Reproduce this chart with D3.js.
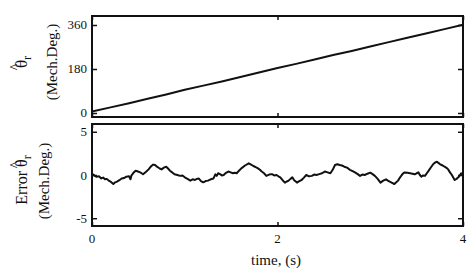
<!DOCTYPE html>
<html>
<head>
<meta charset="utf-8">
<script src="https://cdn.jsdelivr.net/npm/d3@7"></script>
<style>
  body { margin: 0; background: #fff; }
  svg text { font-family: "Liberation Serif", "DejaVu Serif", serif; fill: #111; }
</style>
</head>
<body>
<svg id="chart" width="474" height="278"></svg>
<script>
// time ticks (s)
var timeTicks = [0, 2, 4];
var thetaTicks = [0, 180, 360];
var errTicks = [-5, 0, 5];

// estimated rotor position (mech. deg.)
var thetaTime = [0, 0.2, 0.4, 0.6, 0.8, 1.0, 1.2, 1.4, 1.6, 1.8, 2.0, 2.2, 2.4, 2.6, 2.8, 3.0, 3.2, 3.4, 3.6, 3.8, 4.0];
var thetaVal  = [6, 23, 40, 58, 76, 95, 112, 129, 147, 166, 184, 201, 219, 237, 254, 272, 290, 308, 325, 343, 361];

// position error (mech. deg.)
var errTime = [0.00, 0.01, 0.03, 0.05, 0.075, 0.10, 0.12, 0.14, 0.16, 0.18, 0.205, 0.23, 0.25, 0.27, 0.295, 0.32, 0.345, 0.37, 0.40, 0.415, 0.425,
  0.43, 0.45, 0.47, 0.495, 0.52, 0.535, 0.55, 0.58, 0.61, 0.625, 0.64, 0.66, 0.68, 0.695, 0.71, 0.73, 0.75, 0.775, 0.80, 0.82, 0.84, 0.865, 0.89,
  0.92, 0.95, 0.975, 1.00, 1.03, 1.06, 1.085, 1.11, 1.13, 1.15, 1.175, 1.20, 1.225, 1.25, 1.28, 1.31, 1.33, 1.345, 1.36, 1.38, 1.40, 1.42,
  1.445, 1.47, 1.495, 1.52, 1.54, 1.56, 1.585, 1.61, 1.65, 1.69, 1.715, 1.74, 1.765, 1.79, 1.81, 1.83, 1.855, 1.88, 1.91, 1.94, 1.965, 1.99,
  2.01, 2.03, 2.055, 2.08, 2.10, 2.12, 2.14, 2.16, 2.18, 2.21, 2.235, 2.26, 2.285, 2.31, 2.34, 2.37, 2.395, 2.42, 2.45, 2.48, 2.51, 2.54,
  2.57, 2.595, 2.62, 2.645, 2.67, 2.695, 2.72, 2.75, 2.78, 2.81, 2.84, 2.865, 2.89, 2.915, 2.94, 2.97, 3.00, 3.025, 3.05, 3.08, 3.11, 3.14,
  3.17, 3.19, 3.21, 3.235, 3.26, 3.28, 3.30, 3.32, 3.34, 3.355, 3.37, 3.40, 3.43, 3.455, 3.48, 3.50, 3.52, 3.535, 3.55, 3.57, 3.59, 3.61,
  3.63, 3.655, 3.68, 3.70, 3.72, 3.735, 3.75, 3.78, 3.81, 3.825, 3.84, 3.86, 3.88, 3.895, 3.91, 3.93, 3.95, 3.965, 3.98, 4.00];
var errVal = [0.05, 0.08, -0.1, -0.2, -0.15, -0.4, -0.3, -0.5, -0.45, -0.65, -0.8, -1.04, -0.85, -0.77, -0.6, -0.4, -0.35, -0.2, -0.15, -0.5, -0.05,
  0.0, 0.3, 0.5, 0.4, 0.3, 0.2, 0.08, 0.35, 0.65, 0.85, 1.04, 1.2, 1.15, 1.0, 0.9, 0.75, 0.65, 0.85, 0.96, 0.75, 0.5, 0.3, 0.08,
  0.0, -0.1, -0.05, -0.27, -0.45, -0.65, -0.5, -0.58, -0.45, -0.4, -0.7, -0.85, -0.7, -0.65, -0.5, -0.4, 0.08, -0.1, 0.2, 0.1, -0.05, 0.0,
  0.25, 0.4, 0.3, 0.2, 0.25, 0.2, 0.5, 0.77, 1.1, 1.35, 1.2, 1.04, 0.9, 0.77, 0.6, 0.4, 0.2, -0.1, 0.05, 0.1, -0.05, 0.0,
  -0.15, -0.27, -0.6, -0.88, -0.75, -0.65, -0.45, -0.27, -0.6, -0.88, -0.7, -0.58, -0.3, 0.0, -0.15, -0.1, 0.05, 0.0, 0.1, 0.2, 0.4, 0.3,
  0.2, 0.6, 1.15, 1.25, 1.15, 1.1, 0.96, 0.85, 0.6, 0.45, 0.27, 0.1, -0.1, 0.05, 0.0, 0.15, 0.27, 0.1, -0.1, -0.45, -0.88, -0.65,
  -0.5, -0.65, -0.77, -0.9, -1.04, -0.85, -0.65, -0.3, 0.0, 0.2, 0.3, 0.25, 0.2, 0.15, 0.08, 0.2, 0.3, 0.0, -0.2, -0.05, -0.1, 0.2,
  0.5, 0.9, 1.27, 1.45, 1.54, 1.4, 1.27, 1.1, 0.9, 0.8, 0.65, 0.3, 0.0, -0.3, -0.58, -0.45, -0.27, -0.05, 0.2, 0.05];

var svg = d3.select("#chart");
var left = 92, right = 463;

var x = d3.scaleLinear().domain([0, 4]).range([left, right]);
var yTop = d3.scaleLinear().domain([-16.4, 396.8]).range([117, 16]);
var yBot = d3.scaleLinear().domain([-5.9, 5.9]).range([226, 124]);

function panel(y, ticks, time, vals, lw) {
  var g = svg.append("g");
  var y0 = y.range()[0], y1 = y.range()[1];

  var line = d3.line()
    .x(function(d, i) { return x(time[i]); })
    .y(function(d) { return y(d); });
  g.append("path")
    .datum(vals)
    .attr("d", line)
    .attr("fill", "none")
    .attr("stroke", "#111")
    .attr("stroke-width", lw)
    .attr("stroke-linejoin", "round");

  // inward ticks, all four sides
  g.append("g").attr("transform", "translate(" + left + ",0)")
    .call(d3.axisRight(y).tickValues(ticks).tickSize(5).tickFormat(""));
  g.append("g").attr("transform", "translate(" + right + ",0)")
    .call(d3.axisLeft(y).tickValues(ticks).tickSize(5).tickFormat(""));
  g.append("g").attr("transform", "translate(0," + y0 + ")")
    .call(d3.axisTop(x).tickValues(timeTicks).tickSize(4).tickFormat(""));
  g.append("g").attr("transform", "translate(0," + y1 + ")")
    .call(d3.axisBottom(x).tickValues(timeTicks).tickSize(4).tickFormat(""));
  g.selectAll(".domain").remove();
  g.selectAll(".tick line").attr("stroke", "#111").attr("stroke-width", 1.5);

  // tick labels
  g.selectAll(".ylab").data(ticks).enter().append("text")
    .attr("x", left - 5)
    .attr("y", function(d) { return y(d) + 4.5; })
    .attr("text-anchor", "end")
    .style("font-size", "13px")
    .text(function(d) { return d; });

  g.append("rect")
    .attr("x", left).attr("y", y1)
    .attr("width", right - left).attr("height", y0 - y1)
    .attr("fill", "none").attr("stroke", "#111").attr("stroke-width", 2);
}

panel(yTop, thetaTicks, thetaTime, thetaVal, 2);
panel(yBot, errTicks, errTime, errVal, 2);

// x tick labels + title
svg.selectAll(".xlab").data(timeTicks).enter().append("text")
  .attr("x", function(d) { return x(d); })
  .attr("y", 243)
  .attr("text-anchor", "middle")
  .style("font-size", "13px")
  .text(function(d) { return d; });
svg.append("text").attr("x", 276).attr("y", 265)
  .attr("text-anchor", "middle").style("font-size", "15px")
  .text("time, (s)");

// rotated y labels
function vtext(px, py, size) {
  return svg.append("text")
    .attr("transform", "translate(" + px + "," + py + ") rotate(-90)")
    .attr("text-anchor", "middle")
    .style("font-size", size + "px");
}
function thetaHat(t, hatX, hatY) {
  t.append("tspan").text("θ");
  t.append("tspan").attr("dy", 4).style("font-size", "12px").text("r");
  svg.append("text")
    .attr("transform", "translate(" + hatX + "," + hatY + ") rotate(-90)")
    .attr("text-anchor", "middle")
    .style("font-size", "14px")
    .text("^");
}

thetaHat(vtext(27, 62, 17), 20, 67);
vtext(57, 62, 15).text("(Mech.Deg.)");

var e = vtext(27, 180, 16);
e.append("tspan").text("Error ");
thetaHat(e, 20, 165);
vtext(49, 181, 15).text("(Mech.Deg.)");
</script>
</body>
</html>
